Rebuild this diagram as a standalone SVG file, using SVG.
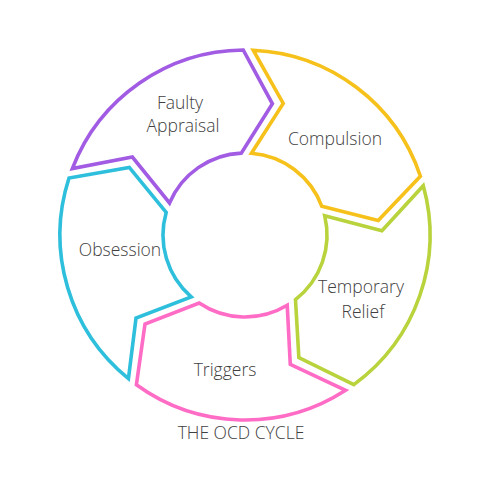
<svg xmlns="http://www.w3.org/2000/svg" width="480" height="480" viewBox="0 0 480 480">
<style>
.seg{fill:#ffffff;stroke-width:3.6;stroke-linejoin:miter}
.lbl{font-family:"Open Sans","Liberation Sans",sans-serif;font-weight:300;font-size:17.5px;fill:#404040;text-anchor:middle}
</style>
<rect width="480" height="480" fill="#ffffff"/>
<g id="triggers">
<path class="seg" stroke="#ff6cc6" d="M345.57,390.29 A185,185 0 0 1 136.4,384.8 L145.0,324.1 L199.15,302.98 A82,82 0 0 0 287.23,305.29 L290.28,364.3 Z"/>
<text class="lbl" x="225" y="376">Triggers</text>
</g>
<g id="obsession">
<path class="seg" stroke="#2dbfdb" d="M128.45,378.67 A185,185 0 0 1 69.01,178.0 L129.3,167.4 L166.17,212.4 A82,82 0 0 0 191.2,296.89 L136.02,318.02 Z"/>
<text class="lbl" x="120" y="256">Obsession</text>
</g>
<g id="faulty-appraisal">
<path class="seg" stroke="#a25ce3" d="M72.34,168.55 A185,185 0 0 1 243.22,50.0 L272.4,103.8 L241.42,153.08 A82,82 0 0 0 169.52,202.96 L132.37,157.0 Z"/>
<text class="lbl" x="180" y="109">Faulty</text>
<text class="lbl" x="183" y="132">Appraisal</text>
</g>
<g id="compulsion">
<path class="seg" stroke="#f6c11a" d="M253.23,50.18 A185,185 0 0 1 420.4,176.2 L378.2,220.5 L321.81,206.28 A82,82 0 0 0 251.43,153.25 L283.22,103.44 Z"/>
<text class="lbl" x="335" y="145">Compulsion</text>
</g>
<g id="temporary-relief">
<path class="seg" stroke="#b8d33c" d="M423.3,185.7 A185,185 0 0 1 353.85,384.6 L298.86,357.7 L295.49,299.6 A82,82 0 0 0 324.74,215.86 L381.93,230.7 Z"/>
<text class="lbl" x="361" y="293">Temporary</text>
<text class="lbl" x="363" y="318">Relief</text>
</g>
<g id="connectors"></g>
<text class="lbl" x="241" y="439">THE OCD CYCLE</text>
</svg>
